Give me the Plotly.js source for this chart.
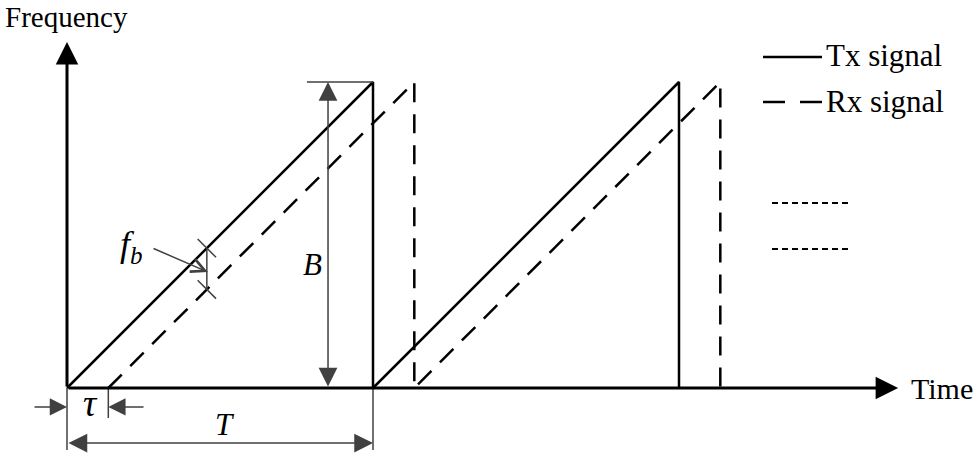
<!DOCTYPE html>
<html>
<head>
<meta charset="utf-8">
<script src="https://cdn.plot.ly/plotly-3.0.1.min.js"></script>
<style>
  html, body { margin: 0; padding: 0; background: #fff; }
  #chart { width: 979px; height: 455px; }
</style>
</head>
<body>
<div id="chart"></div>
<script>
(function() {
  'use strict';

  // chirp timing: time in units of T, frequency in units of B
  var chirpPeriod = 1;
  var chirpDelay = 0.135;
  var chirpBand = 1;

  var txTime = [0, 1, 1, 2, 2];
  var txFreq = [0, 1, 0, 1, 0];
  var rxTime = [0.135, 1.135, 1.135, 2.135, 2.135];
  var rxFreq = [0, 1, 0, 1, 0];

  var legendNames = ['Tx signal', 'Rx signal'];
  var axisNames = ['Time', 'Frequency'];
  var beatTime = 0.457;   // where f_b is marked on the first ramp

  var W = 979, H = 455;
  var SERIF = 'Liberation Serif, Times New Roman, serif';
  var GREY = '#404040';

  // paper coords from picture pixels, for the free decorations
  function px(x) { return x / W; }
  function py(y) { return 1 - y / H; }

  function arrow(x, y, ax, ay, opts) {
    var a = {
      x: x, y: y, ax: ax, ay: ay,
      xref: 'x', yref: 'y', axref: 'x', ayref: 'y',
      text: '', showarrow: true,
      arrowhead: 2, arrowsize: 2.5, arrowwidth: 1.5, arrowcolor: GREY
    };
    for (var k in opts) a[k] = opts[k];
    return a;
  }

  function label(text, x, y, size, opts) {
    var a = {
      x: px(x), y: py(y), xref: 'paper', yref: 'paper',
      text: text, showarrow: false,
      xanchor: 'center', yanchor: 'middle',
      font: { family: SERIF, size: size, color: '#000' }
    };
    for (var k in opts) a[k] = opts[k];
    return a;
  }

  function seg(x0, y0, x1, y1, color, width, dash, ref) {
    return {
      type: 'line', x0: x0, y0: y0, x1: x1, y1: y1,
      xref: ref || 'x', yref: ref || 'y',
      line: { color: color, width: width, dash: dash || 'solid' }
    };
  }

  var data = [
    {
      x: txTime, y: txFreq, type: 'scatter', mode: 'lines',
      name: legendNames[0], hoverinfo: 'skip',
      line: { color: '#000', width: 2.5 }
    },
    {
      x: rxTime, y: rxFreq, type: 'scatter', mode: 'lines',
      name: legendNames[1], hoverinfo: 'skip',
      line: { color: '#000', width: 2.5, dash: '19px,12px' }
    }
  ];

  var txAtBeat = beatTime * chirpBand / chirpPeriod;
  var rxAtBeat = (beatTime - chirpDelay) * chirpBand / chirpPeriod;
  var tk = 0.03;
  var dimY = -0.062, tY = -0.18;

  var shapes = [
    // B top extension
    seg(0.784, chirpBand, chirpPeriod, chirpBand, GREY, 1.5),
    // f_b marker
    seg(beatTime, rxAtBeat, beatTime, txAtBeat, GREY, 1.5),
    seg(beatTime - tk, txAtBeat + tk, beatTime + tk, txAtBeat - tk, GREY, 1.5),
    seg(beatTime - tk, rxAtBeat + tk, beatTime + tk, rxAtBeat - tk, GREY, 1.5),
    // tau tick and T extensions
    seg(chirpDelay, 0, chirpDelay, -0.098, GREY, 1.5),
    seg(0, 0, 0, -0.203, GREY, 1.5),
    seg(chirpPeriod, 0, chirpPeriod, -0.203, GREY, 1.5),
    // legend samples
    seg(px(763), py(57), px(822), py(57), '#000', 2.5, 'solid', 'paper'),
    seg(px(763), py(102), px(822), py(102), '#000', 2.5, '22px,15px', 'paper'),
    // continuation dots
    seg(px(772), py(203), px(852), py(203), '#000', 2, '6px,4px', 'paper'),
    seg(px(772), py(249), px(852), py(249), '#000', 2, '6px,4px', 'paper')
  ];

  var annotations = [
    // axes
    arrow(0, 1.131, 0, 0, { arrowsize: 1.5, arrowwidth: 3, arrowcolor: '#000' }),
    arrow(2.716, 0, 0, 0, { arrowsize: 1.5, arrowwidth: 3, arrowcolor: '#000' }),
    // B
    arrow(0.853, chirpBand, 0.853, 0, {
      arrowside: 'end+start', startarrowhead: 2, startarrowsize: 2.5
    }),
    // tau
    arrow(0, dimY, -0.111, dimY, { arrowsize: 2.3 }),
    arrow(chirpDelay, dimY, 0.255, dimY, { arrowsize: 2.3 }),
    // T
    arrow(chirpPeriod, tY, 0, tY, {
      arrowside: 'end+start', startarrowhead: 2, startarrowsize: 2.5
    }),
    // f_b pointer
    arrow(0.460, 0.379, 0.278, 0.458, { arrowhead: 5, arrowsize: 1.8 }),

    label(axisNames[1], 3, 17, 29, { xanchor: 'left' }),
    label(axisNames[0], 909, 388, 30, { xanchor: 'left' }),
    label(legendNames[0], 824, 55, 31, { xanchor: 'left' }),
    label(legendNames[1], 824, 101, 31, { xanchor: 'left' }),
    label('<i>B</i>', 312, 264, 31),
    label('<i>\u03C4</i>', 90, 403, 37),
    label('<i>T</i>', 225, 424, 31),
    label('<i>f</i><sub><span style="font-size:25px"><i>b</i></span></sub>', 131, 247, 36)
  ];

  var layout = {
    width: W, height: H,
    paper_bgcolor: '#fff', plot_bgcolor: '#fff',
    margin: { l: 0, r: 0, t: 0, b: 0 },
    showlegend: false,
    font: { family: SERIF, color: '#000' },
    xaxis: { visible: false, range: [-67 / 306, 912 / 306], fixedrange: true },
    yaxis: { visible: false, range: [-67 / 306, 388 / 306], fixedrange: true },
    shapes: shapes,
    annotations: annotations
  };

  Plotly.newPlot('chart', data, layout, { staticPlot: true, displayModeBar: false });
})();
</script>
</body>
</html>
